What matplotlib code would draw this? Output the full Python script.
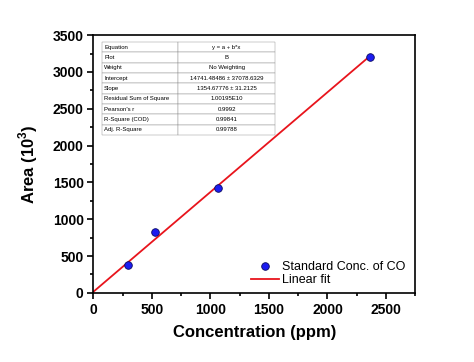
import matplotlib
matplotlib.use("Agg")
import matplotlib.pyplot as plt
import numpy as np
from matplotlib.ticker import MultipleLocator

plt.rcParams['font.family'] = ['Liberation Sans', 'DejaVu Sans']
plt.rcParams['mathtext.fontset'] = 'custom'
plt.rcParams['mathtext.rm'] = 'Liberation Sans'
plt.rcParams['mathtext.bf'] = 'Liberation Sans:bold'

# standard points
conc = [296, 527, 1068, 2360]
area = [378, 828, 1425, 3202]

# fit results (area in 10^3)
intercept = 14.74148486
slope = 1.35467776

tbl_rows = [
    ["Equation", "y = a + b*x"],
    ["Plot", "B"],
    ["Weight", "No Weighting"],
    ["Intercept", "14741.48486 \u00b1 37078.6329"],
    ["Slope", "1354.67776 \u00b1 31.2125"],
    ["Residual Sum of Square", "1.00195E10"],
    ["Pearson's r", "0.9992"],
    ["R-Square (COD)", "0.99841"],
    ["Adj. R-Square", "0.99788"],
]

fig = plt.figure(figsize=(4.74, 3.62), dpi=100)
ax = fig.add_axes([0.197, 0.191, 0.679, 0.712])

xf = np.array([0, max(conc)])
ax.plot(xf, intercept + slope * xf, color='#e8141c', lw=1.3, label='Linear fit', zorder=2)
ax.scatter(conc, area, s=30, color='#1c1cf0', edgecolors='#0a0a60', linewidths=0.6,
           label='Standard Conc. of CO', zorder=3)

ax.set_xlim(0, 2750)
ax.set_ylim(0, 3500)
ax.xaxis.set_major_locator(MultipleLocator(500))
ax.xaxis.set_minor_locator(MultipleLocator(250))
ax.yaxis.set_major_locator(MultipleLocator(500))
ax.yaxis.set_minor_locator(MultipleLocator(250))
ax.tick_params(which='both', direction='out', top=False, right=False, width=1.2)
ax.tick_params(which='major', length=4.5, labelsize=10, pad=2.5)
ax.tick_params(which='minor', length=2.5)
for lab in ax.get_xticklabels() + ax.get_yticklabels():
    lab.set_fontweight('bold')
for s in ax.spines.values():
    s.set_linewidth(1.2)

ax.set_xlabel('Concentration (ppm)', fontsize=12, fontweight='bold', labelpad=6)
ax.set_ylabel('Area (10$^\\mathbf{3}$)', fontsize=12, fontweight='bold', labelpad=9)

h, l = ax.get_legend_handles_labels()
ax.legend(h[::-1], l[::-1], loc='lower right', frameon=False, fontsize=9,
          handlelength=2.2, handletextpad=0.25, labelspacing=0.15,
          borderpad=0, borderaxespad=0, bbox_to_anchor=(0.969, 0.025))

tb = ax.table(cellText=tbl_rows, cellLoc='left', colWidths=[0.44, 0.56],
              bbox=[0.026, 0.612, 0.539, 0.361])
tb.auto_set_font_size(False)
tb.set_fontsize(4.3)
for (r, c), cell in tb.get_celld().items():
    cell.set_linewidth(0.3)
    cell.set_edgecolor('#888888')
    cell.set_facecolor('white')
    cell.PAD = 0.03
    if c == 1:
        cell.get_text().set_horizontalalignment('center')

fig.savefig('out.png', dpi=100)
